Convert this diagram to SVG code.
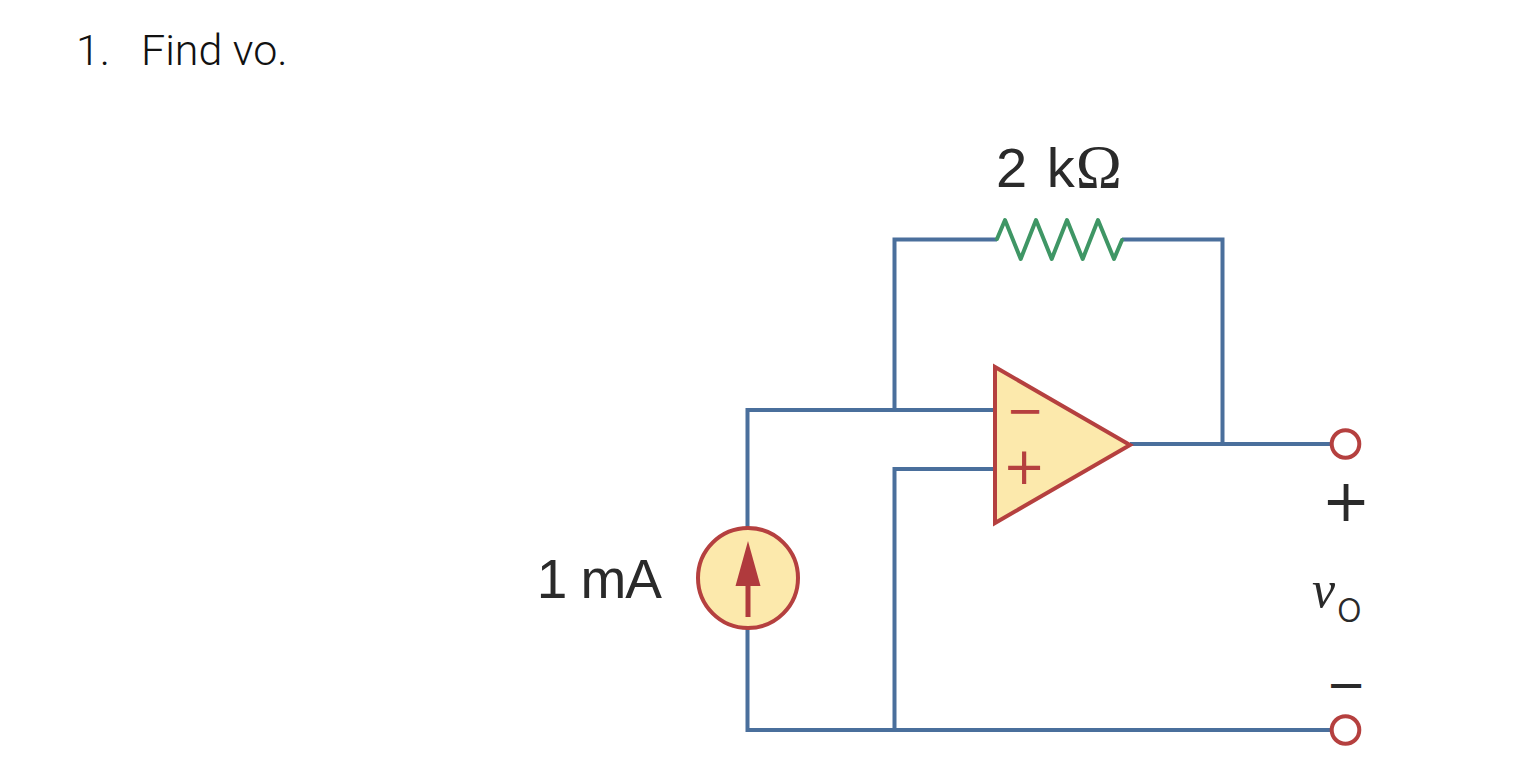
<svg xmlns="http://www.w3.org/2000/svg" width="1522" height="767" viewBox="0 0 1522 767">
<style>
.w{fill:none;stroke:#4a6f9c;stroke-width:4}
.f{fill:#fce9ac;stroke:#b5403f;stroke-width:4}
.t{fill:#fff;stroke:#b5403f;stroke-width:4}
text{font-family:"Liberation Sans",Arial,sans-serif;fill:#2a2a2a}
.s{fill:#b5403f;text-anchor:middle;font-family:"DejaVu Sans",sans-serif}
.p{text-anchor:middle;font-family:"DejaVu Sans",sans-serif}
.h{fill:#111;font-size:43px;font-weight:300;font-family:Roboto,sans-serif}
</style>
<rect width="1522" height="767" fill="#ffffff"/>
<g id="title">
<text class="h" x="76" y="65">1.</text>
<text class="h" x="141" y="65">Find vo.</text>
</g>
<g id="connectors">
<path class="w" d="M997 239.500H894.500V410M1122 239.500H1222.500V444"/>
<path class="w" d="M995 410H747.500V528M747.500 628V730H1332M894.500 730V469H995M1130 444H1332"/>
</g>
<g id="resistor">
<path fill="none" stroke="#3f9665" stroke-width="4" stroke-linejoin="round" stroke-linecap="round" d="M997 239L1005 220L1020.700 259L1036 220L1051.700 259L1067 220L1082.700 259L1098 220L1114 259L1122 240"/>
<text x="996" y="187" font-size="56">2 <tspan dx="4">k</tspan><tspan font-size="62" dx="1" style="font-family:'Liberation Serif',serif">Ω</tspan></text>
</g>
<g id="opamp">
<path class="f" d="M995 367V523L1130 445Z"/>
<text class="s" x="1025" y="426" font-size="45">−</text>
<text class="s" x="1024" y="484" font-size="51">+</text>
</g>
<g id="source">
<circle class="f" cx="748" cy="578" r="50"/>
<path fill="#b03a3d" d="M748 541L760.500 586H750.500V617H745.500V586H735.500Z"/>
<text x="661" y="598" font-size="55" text-anchor="end" letter-spacing="-1">1 mA</text>
</g>
<g id="terminal-top"><circle class="t" cx="1345.500" cy="444" r="13.800"/></g>
<g id="terminal-bottom"><circle class="t" cx="1345.500" cy="730" r="13.800"/></g>
<g id="vo-label">
<text class="p" x="1346" y="521" font-size="58">+</text>
<text x="1312" y="607" font-size="52" style="font-family:'Liberation Serif',serif;font-style:italic">v<tspan font-size="44" dx="2" dy="15" style="font-family:Roboto,sans-serif;font-weight:300;font-style:normal">o</tspan></text>
<text class="p" x="1346" y="701" font-size="48">−</text>
</g>
</svg>
